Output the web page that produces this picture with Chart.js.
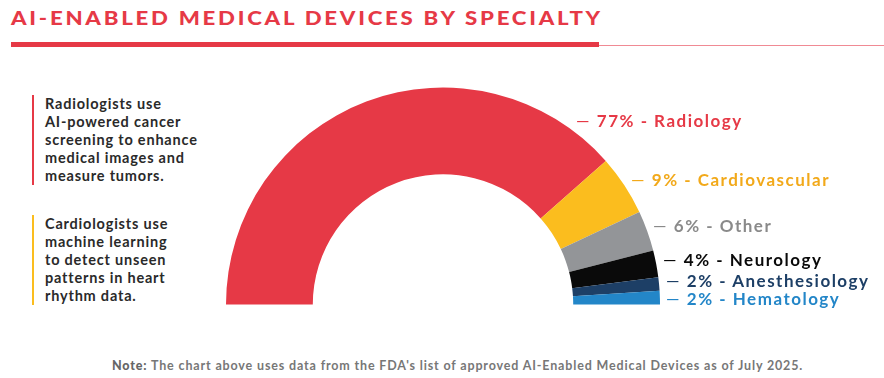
<!DOCTYPE html>
<html>
<head>
<meta charset="utf-8">
<script src="https://cdn.jsdelivr.net/npm/chart.js@4.4.1/dist/chart.umd.min.js"></script>
<style>
  html, body { margin: 0; padding: 0; background: #fff; }
  body { width: 884px; height: 378px; position: relative; overflow: hidden; font-family: "Lato", sans-serif; }
  .title { position: absolute; left: 11px; top: 7px; font-size: 18.5px; font-weight: 900; color: #e63946; letter-spacing: 2.3px; white-space: nowrap; transform: scaleX(1.2); transform-origin: left top; }
  .rule-thick { position: absolute; left: 11px; top: 42px; width: 588px; height: 5px; background: #e63946; }
  .rule-thin { position: absolute; left: 599px; top: 45px; width: 285px; height: 1px; background: #f08a94; }
  .note-block { position: absolute; left: 32px; border-left: 2px solid; padding-left: 11px; font-size: 14.5px; font-weight: 700; color: #2a2a2a; line-height: 18px; letter-spacing: 0.8px; }
  .chart-box { position: absolute; left: 226px; top: 86px; width: 434px; height: 220px; }
  .lbl { position: absolute; font-size: 17px; font-weight: 700; letter-spacing: 1.5px; white-space: nowrap; line-height: 20px; }
  .foot { position: absolute; left: 112px; top: 358px; white-space: nowrap; font-size: 12.5px; font-weight: 700; letter-spacing: 0.85px; color: #777; }
  .foot b { color: #666; font-weight: 900; }
</style>
</head>
<body>
<div class="title">AI-ENABLED MEDICAL DEVICES BY SPECIALTY</div>
<div class="rule-thick"></div>
<div class="rule-thin"></div>

<div class="note-block" style="top: 95px; border-color: #e63946;">Radiologists use<br>AI-powered cancer<br>screening to enhance<br>medical images and<br>measure tumors.</div>
<div class="note-block" style="top: 215px; border-color: #fbbd1e;">Cardiologists use<br>machine learning<br>to detect unseen<br>patterns in heart<br>rhythm data.</div>

<div class="chart-box"><canvas id="chart"></canvas></div>
<div id="labels"></div>

<div class="foot"><b>Note:</b> The chart above uses data from the FDA's list of approved AI-Enabled Medical Devices as of July 2025.</div>

<script>
const specialties = ["Radiology", "Cardiovascular", "Other", "Neurology", "Anesthesiology", "Hematology"];
const shares = [77, 9, 6, 4, 2, 2];
const sliceColors = ["#e63946", "#fbbd1e", "#939598", "#0a0a0a", "#1d3f66", "#2386c8"];
const labelColors = ["#e63946", "#f2a91a", "#8a8a8a", "#0a0a0a", "#1d3f66", "#2386c8"];

// label anchor spots (left end of the dash, vertical centre)
const labelSpots = [[576, 121], [631, 180], [653, 226], [663, 260], [666, 281], [666, 299]];

new Chart(document.getElementById("chart"), {
  type: "doughnut",
  data: {
    labels: specialties,
    datasets: [{
      data: shares,
      backgroundColor: sliceColors,
      borderWidth: 0,
    }],
  },
  options: {
    responsive: true,
    maintainAspectRatio: false,
    animation: false,
    rotation: -90,
    circumference: 180,
    cutout: "60%",
    layout: { padding: 0 },
    plugins: {
      legend: { display: false },
      tooltip: { enabled: false },
    },
  },
});

const holder = document.getElementById("labels");
specialties.forEach((name, i) => {
  const el = document.createElement("div");
  el.className = "lbl";
  el.style.left = labelSpots[i][0] + "px";
  el.style.top = (labelSpots[i][1] - 10) + "px";
  el.style.color = labelColors[i];
  const dash = document.createElement("span");
  dash.textContent = "— ";
  dash.style.fontWeight = "400";
  el.appendChild(dash);
  el.appendChild(document.createTextNode(shares[i] + "% - " + name));
  holder.appendChild(el);
});
</script>
</body>
</html>
